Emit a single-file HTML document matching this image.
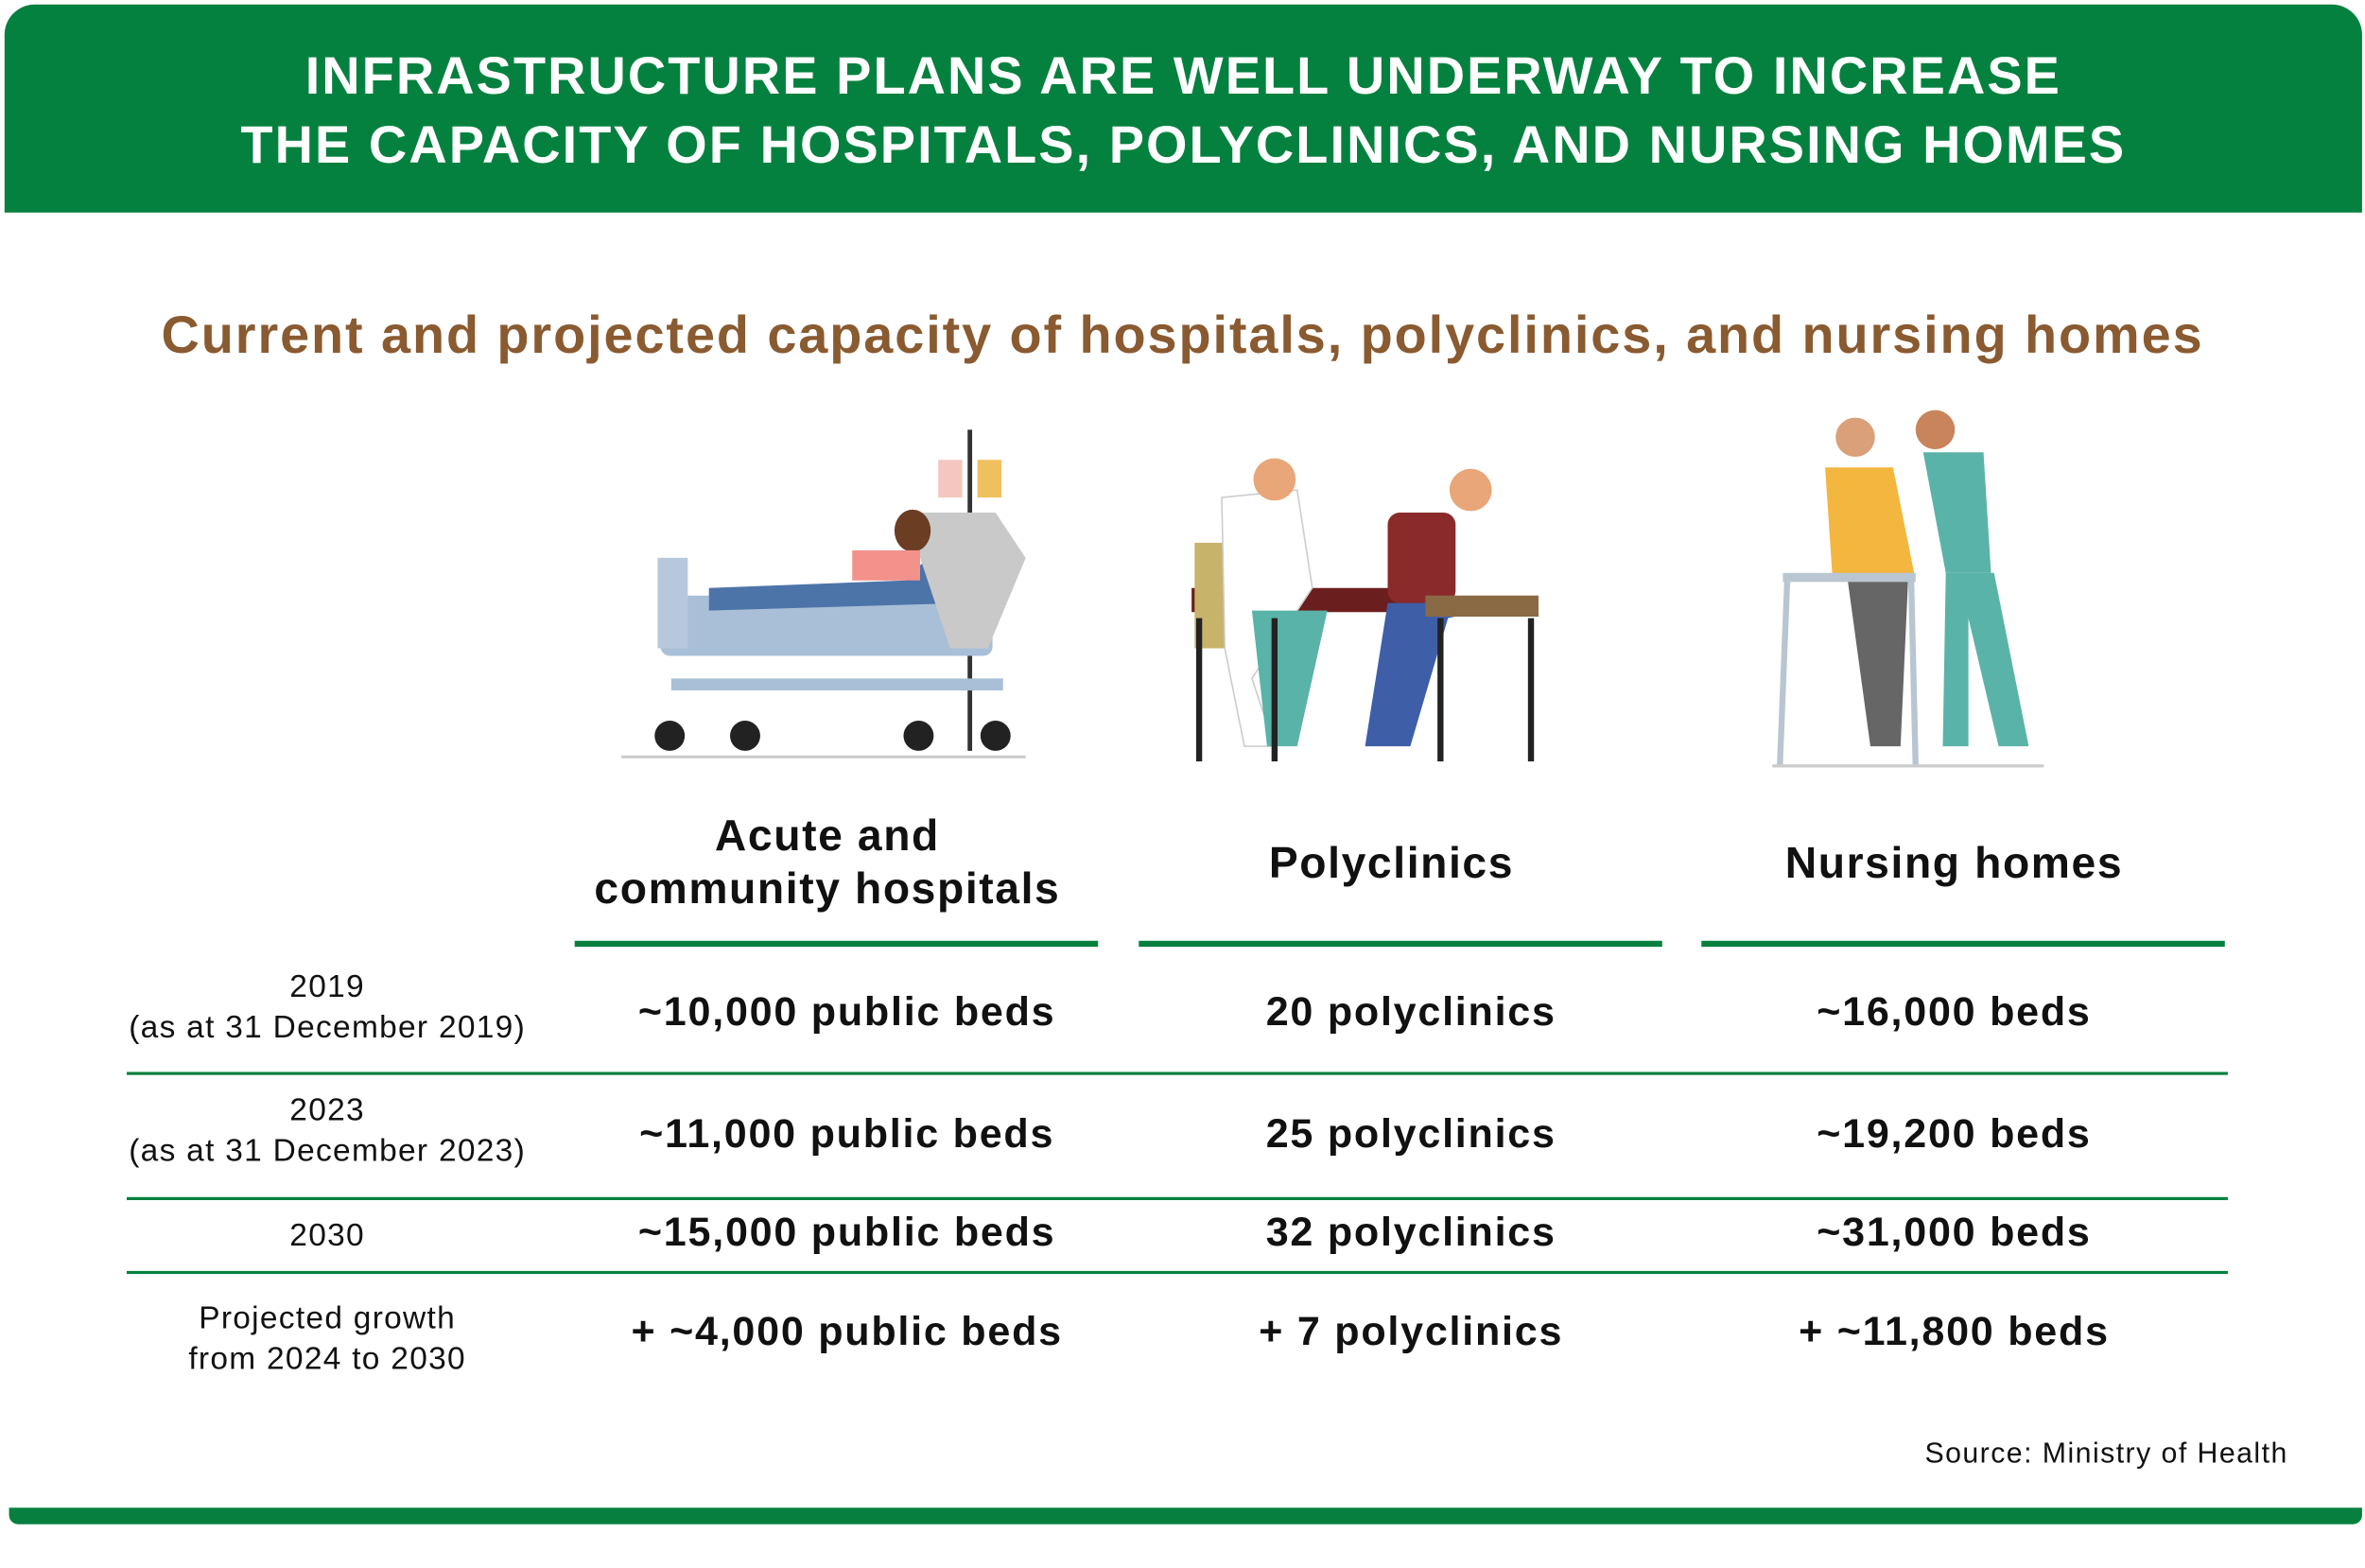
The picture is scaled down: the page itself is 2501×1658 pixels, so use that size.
<!DOCTYPE html>
<html><head><meta charset="utf-8"><style>
html,body{margin:0;padding:0;background:#fff;}
#wrap{width:2501px;height:1658px;overflow:hidden;position:relative;}
#c{width:1568px;height:1040px;position:absolute;left:0;top:0;transform:scale(1.5951,1.5942);transform-origin:0 0;font-family:"Liberation Sans",sans-serif;}
.a{position:absolute;}
.hd{left:3px;top:3px;width:1563px;height:138px;background:#05813f;border-radius:20px 20px 0 0;color:#fff;font-weight:bold;font-size:35px;text-align:center;line-height:46px;padding-top:25px;box-sizing:border-box;letter-spacing:1.3px}
.sub{left:0;width:1568px;top:203px;text-align:center;color:#8a5a30;font-weight:bold;font-size:35px;letter-spacing:1.2px}
.ch{font-weight:bold;font-size:29px;text-align:center;width:347px;line-height:35px;color:#111;letter-spacing:1px}
.gl{height:4px;background:#07803f;width:347px;top:624px}
.tl{height:1.5px;background:#07803f;left:84px;width:1393px}
.lab{left:67px;width:300px;text-align:center;font-size:21px;line-height:27px;color:#111;letter-spacing:0.8px}
.v{font-weight:bold;font-size:27px;text-align:center;width:347px;color:#111;letter-spacing:1.1px}
</style></head><body><div id="wrap"><div id="c">
<div class="a hd">INFRASTRUCTURE PLANS ARE WELL UNDERWAY TO INCREASE<br>THE CAPACITY OF HOSPITALS, POLYCLINICS, AND NURSING HOMES</div>
<div class="a sub">Current and projected capacity of hospitals, polyclinics, and nursing homes</div>

<svg class="a" style="left:0;top:270px" width="1568" height="250">
<line x1="643" y1="15" x2="643" y2="228" stroke="#333" stroke-width="3"/>
<rect x="622" y="35" width="16" height="25" fill="#f3c7c0"/><rect x="648" y="35" width="16" height="25" fill="#f0c060"/>
<rect x="438" y="125" width="220" height="40" rx="6" fill="#a9bfd8"/>
<rect x="436" y="100" width="20" height="60" fill="#b8c8dc"/>
<path d="M470 120 L600 115 L640 75 L660 80 L640 130 L470 135Z" fill="#4d74a8"/>
<path d="M600 70 L660 70 L680 100 L655 160 L630 160Z" fill="#c9c9c9"/>
<ellipse cx="605" cy="82" rx="12" ry="14" fill="#6b3d22"/>
<rect x="565" y="95" width="45" height="20" fill="#f2928b"/>
<rect x="445" y="180" width="220" height="8" fill="#a9bfd8"/>
<circle cx="444" cy="218" r="10" fill="#222"/><circle cx="494" cy="218" r="10" fill="#222"/><circle cx="609" cy="218" r="10" fill="#222"/><circle cx="660" cy="218" r="10" fill="#222"/>
<line x1="412" y1="232" x2="680" y2="232" stroke="#ccc" stroke-width="2"/>
<rect x="790" y="120" width="170" height="16" fill="#6b1e1e"/>
<rect x="792" y="90" width="25" height="70" fill="#c8b36a"/>
<path d="M810 60 L860 55 L870 120 L830 180 L845 225 L825 225 L812 160Z" fill="#fff" stroke="#ccc"/>
<path d="M830 135 L880 135 L860 225 L840 225Z" fill="#5ab3a8"/>
<circle cx="845" cy="48" r="14" fill="#e8a679"/>
<rect x="920" y="70" width="45" height="60" rx="8" fill="#8a2a2a"/>
<circle cx="975" cy="55" r="14" fill="#e8a679"/>
<path d="M920 130 L1005 130 L960 140 L935 225 L905 225Z" fill="#3e5ea8"/>
<rect x="945" y="125" width="75" height="14" fill="#8a6a45"/>
<line x1="955" y1="140" x2="955" y2="235" stroke="#222" stroke-width="4"/><line x1="1015" y1="140" x2="1015" y2="235" stroke="#222" stroke-width="4"/>
<line x1="795" y1="140" x2="795" y2="235" stroke="#222" stroke-width="4"/><line x1="845" y1="140" x2="845" y2="235" stroke="#222" stroke-width="4"/>
<circle cx="1230" cy="20" r="13" fill="#d9a07a"/>
<path d="M1210 40 L1255 40 L1270 115 L1215 115Z" fill="#f3b63f"/>
<path d="M1225 115 L1265 115 L1260 225 L1240 225Z" fill="#666"/>
<circle cx="1283" cy="15" r="13" fill="#c9845b"/>
<path d="M1275 30 L1315 30 L1320 110 L1290 110Z" fill="#5ab3a8"/>
<path d="M1290 110 L1322 110 L1345 225 L1325 225 L1305 140 L1305 225 L1288 225Z" fill="#5ab3a8"/>
<rect x="1182" y="110" width="88" height="6" fill="#b9c6d2"/>
<line x1="1185" y1="112" x2="1180" y2="238" stroke="#b9c6d2" stroke-width="4"/><line x1="1267" y1="112" x2="1270" y2="238" stroke="#b9c6d2" stroke-width="4"/>
<line x1="1175" y1="238" x2="1355" y2="238" stroke="#ccc" stroke-width="2"/>
</svg>

<div class="a ch" style="left:375px;top:538px">Acute and<br>community hospitals</div>
<div class="a ch" style="left:749px;top:556px">Polyclinics</div>
<div class="a ch" style="left:1122px;top:556px">Nursing homes</div>
<div class="a gl" style="left:381px"></div><div class="a gl" style="left:755px"></div><div class="a gl" style="left:1128px"></div>

<div class="a lab" style="top:641px">2019<br>(as at 31 December 2019)</div>
<div class="a v" style="left:388px;top:656px">~10,000 public beds</div>
<div class="a v" style="left:762px;top:656px">20 polyclinics</div>
<div class="a v" style="left:1122px;top:656px">~16,000 beds</div>
<div class="a tl" style="top:711px"></div>
<div class="a lab" style="top:723px">2023<br>(as at 31 December 2023)</div>
<div class="a v" style="left:388px;top:737px">~11,000 public beds</div>
<div class="a v" style="left:762px;top:737px">25 polyclinics</div>
<div class="a v" style="left:1122px;top:737px">~19,200 beds</div>
<div class="a tl" style="top:794px"></div>
<div class="a lab" style="top:806px">2030</div>
<div class="a v" style="left:388px;top:802px">~15,000 public beds</div>
<div class="a v" style="left:762px;top:802px">32 polyclinics</div>
<div class="a v" style="left:1122px;top:802px">~31,000 beds</div>
<div class="a tl" style="top:843px"></div>
<div class="a lab" style="top:861px">Projected growth<br>from 2024 to 2030</div>
<div class="a v" style="left:388px;top:868px">+ ~4,000 public beds</div>
<div class="a v" style="left:762px;top:868px">+ 7 polyclinics</div>
<div class="a v" style="left:1122px;top:868px">+ ~11,800 beds</div>

<div class="a" style="right:51px;top:954px;font-size:19px;color:#111;letter-spacing:0.9px">Source: Ministry of Health</div>
<div class="a" style="left:6px;top:1000px;width:1560px;height:11px;background:#07803f;border-radius:0 0 6px 6px"></div>
</div></div></body></html>
